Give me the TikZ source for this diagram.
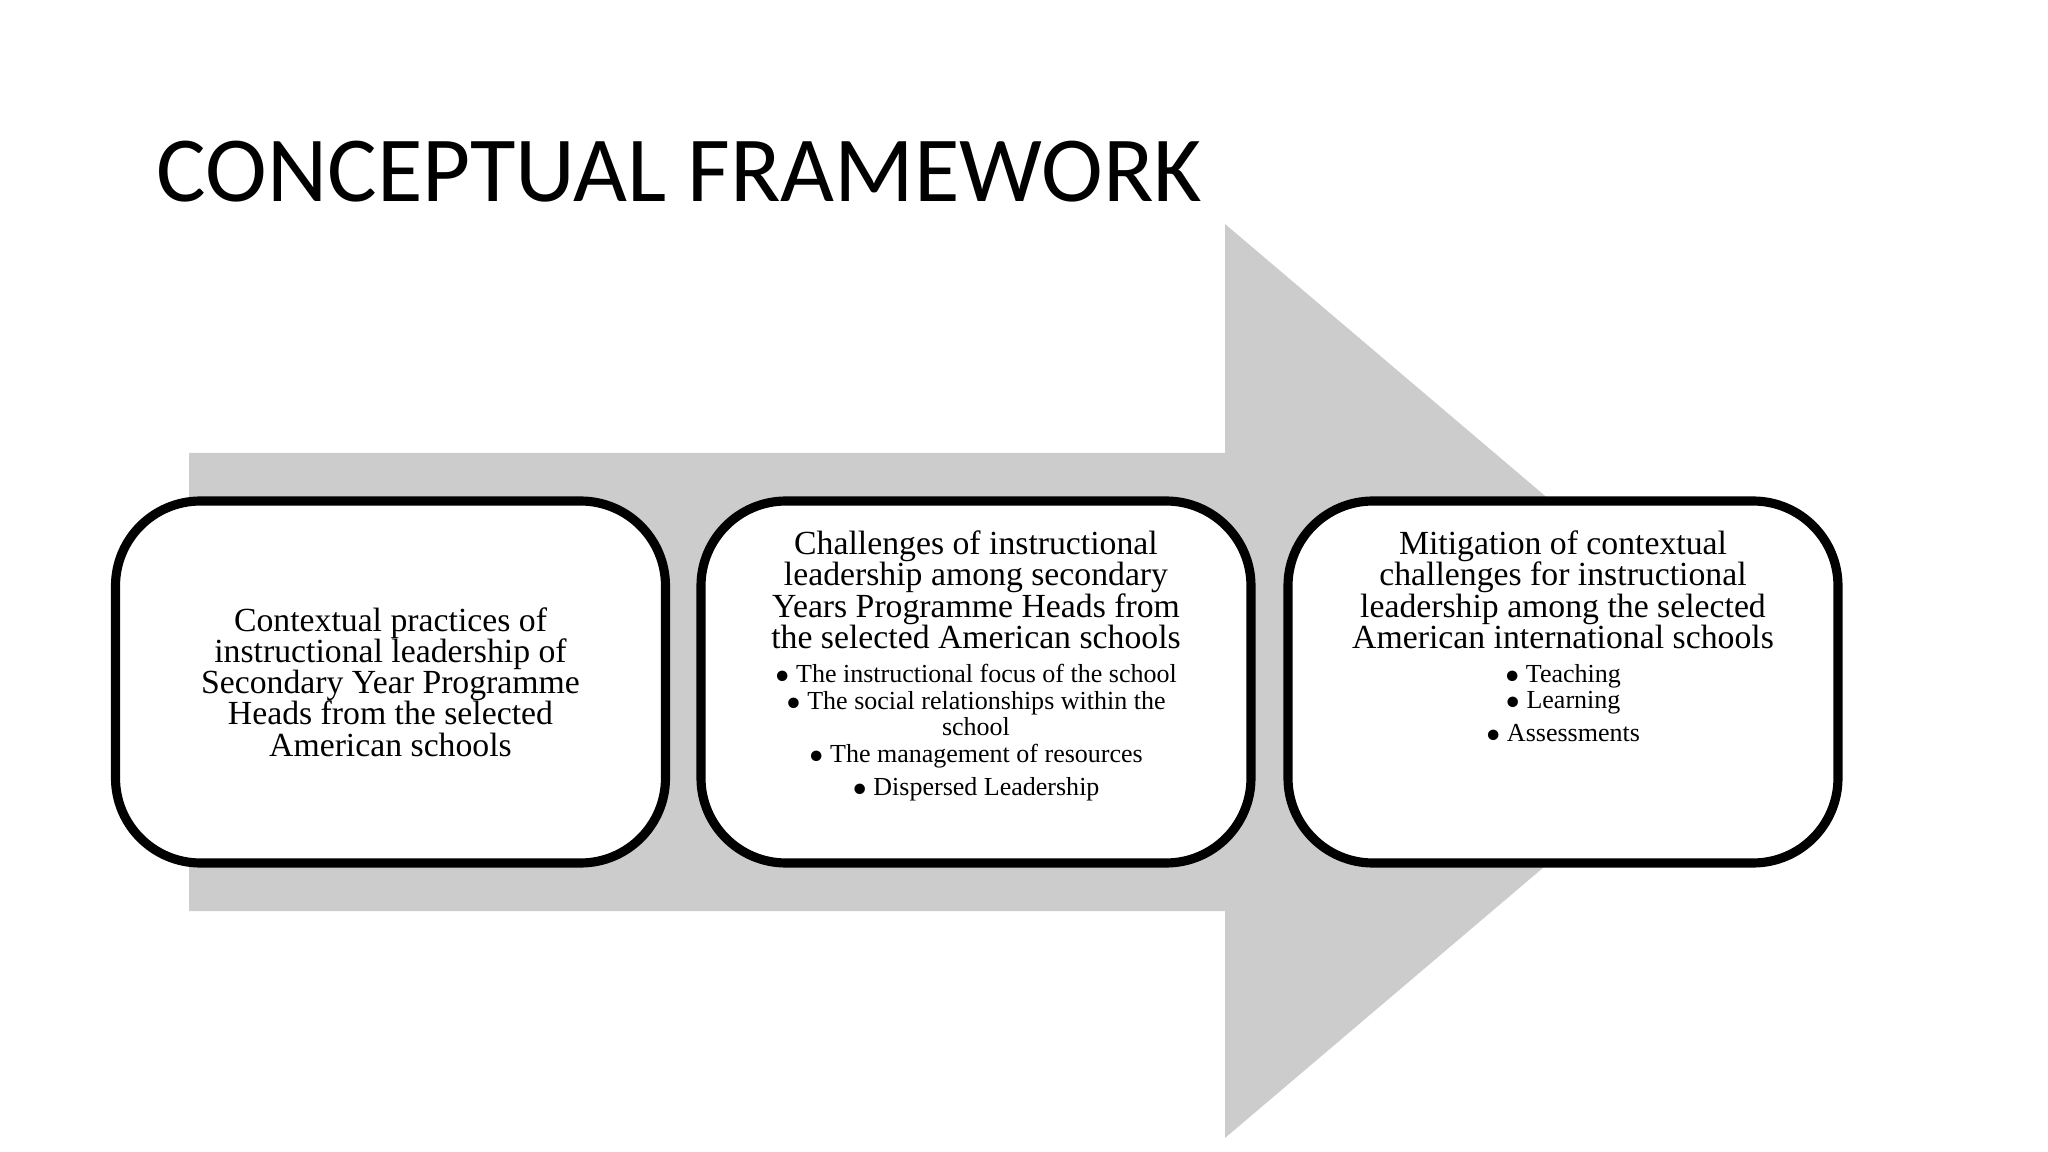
\documentclass[tikz,border=0pt]{standalone}
\usepackage{fontspec}
\setmainfont{Liberation Serif}
\newfontfamily\titlefont{Carlito}
\usetikzlibrary{positioning}

\begin{document}
\begin{tikzpicture}[
  x=1cm,y=-1cm,
  stage/.style={draw,line width=2.6pt,rounded corners=0.85cm,fill=white,
   minimum width=5.5cm,minimum height=3.62cm},
  head/.style={align=center,font=\fontsize{9.6}{8.9}\selectfont,inner sep=0pt},
  items/.style={align=center,font=\fontsize{7.4}{7.6}\selectfont,inner sep=0pt}
  ]
  \useasboundingbox (0,0) rectangle (20.48,11.52);
  % big arrow behind the stages
  \fill[black!20] (1.89,4.53) -- (12.25,4.53) -- (12.25,2.24) -- (17.63,6.81)
   -- (12.25,11.38) -- (12.25,9.11) -- (1.89,9.11) -- cycle;

  \node[anchor=west,inner sep=0pt,font=\titlefont\fontsize{26.5}{26.5}\selectfont]
   (title) at (1.56,1.72) {CONCEPTUAL FRAMEWORK};

  \node[stage] (s1) at (3.905,6.82) {};
  \node[stage] (s2) at (9.76,6.82) {};
  \node[stage] (s3) at (15.63,6.82) {};

  \node[head] (h1) at (s1) {Contextual practices of\\instructional leadership of\\
   Secondary Year Programme\\Heads from the selected\\American schools};

  \node[head,anchor=north] (h2) at (9.76,5.3) {Challenges of instructional\\
   leadership among secondary\\Years Programme Heads from\\the selected American schools};
  \node[items,below=0.14cm of h2] (b2) {$\bullet$ The instructional focus of the school\\
   $\bullet$ The social relationships within the\\school\\
   $\bullet$ The management of resources\\[0.6mm]$\bullet$ Dispersed Leadership};

  \node[head,anchor=north] (h3) at (15.63,5.3) {Mitigation of contextual\\
   challenges for instructional\\leadership among the selected\\American international schools};
  \node[items,below=0.14cm of h3] (b3) {$\bullet$ Teaching\\$\bullet$ Learning\\[0.6mm]
   $\bullet$ Assessments};
\end{tikzpicture}
\end{document}
